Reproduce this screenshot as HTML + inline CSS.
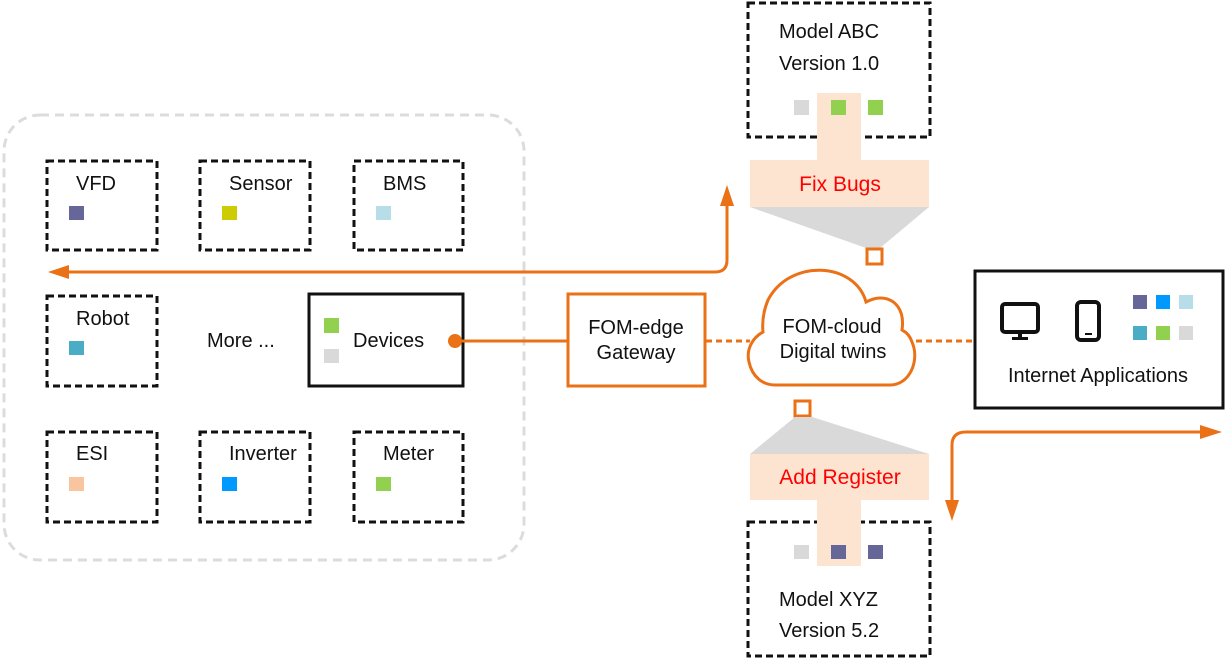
<!DOCTYPE html>
<html><head><meta charset="utf-8"><style>
html,body{margin:0;padding:0;background:#fff;}
svg{display:block;}
text{font-family:"Liberation Sans",sans-serif;font-size:20px;fill:#111;}
</style></head><body>
<svg width="1227" height="661" viewBox="0 0 1227 661" xmlns="http://www.w3.org/2000/svg">
<rect x="4" y="115" width="520" height="445" rx="36" fill="none" stroke="#dcdcdc" stroke-width="3" stroke-dasharray="9,6"/>
<g fill="none" stroke="#111" stroke-width="3" stroke-dasharray="7,4">
<rect x="47" y="161" width="110" height="89"/>
<rect x="200" y="161" width="110" height="89"/>
<rect x="354" y="161" width="109" height="89"/>
<rect x="47" y="296" width="110" height="90"/>
<rect x="47" y="432" width="110" height="90"/>
<rect x="200" y="432" width="110" height="90"/>
<rect x="354" y="432" width="109" height="90"/>
<rect x="748" y="3" width="182" height="134"/>
<rect x="748" y="522" width="182" height="134"/>
</g>
<rect x="309" y="294" width="154" height="92" fill="none" stroke="#111" stroke-width="3"/>
<text x="76" y="190">VFD</text>
<text x="229" y="190">Sensor</text>
<text x="383" y="190">BMS</text>
<text x="76" y="325">Robot</text>
<text x="76" y="460">ESI</text>
<text x="229" y="460">Inverter</text>
<text x="383" y="460">Meter</text>
<text x="207" y="347">More ...</text>
<text x="353" y="347">Devices</text>
<rect x="69" y="206" width="15" height="14" fill="#666699"/>
<rect x="222" y="206" width="15" height="14" fill="#cccc00"/>
<rect x="376" y="206" width="15" height="14" fill="#b7dde8"/>
<rect x="69" y="341" width="15" height="14" fill="#4bacc6"/>
<rect x="69" y="477" width="15" height="14" fill="#f8c59e"/>
<rect x="222" y="477" width="15" height="14" fill="#0099ff"/>
<rect x="376" y="477" width="15" height="14" fill="#92d050"/>
<rect x="324" y="318" width="15" height="15" fill="#92d050"/>
<rect x="324" y="349" width="15" height="14" fill="#d9d9d9"/>
<path d="M62 272 H715 Q727 272 727 260 V200" fill="none" stroke="#eb7117" stroke-width="3"/>
<polygon points="48,272 69,265 69,279" fill="#eb7117"/>
<polygon points="727,185 720,206 734,206" fill="#eb7117"/>
<circle cx="455" cy="341" r="7" fill="#eb7117"/>
<line x1="455" y1="341" x2="567" y2="341" stroke="#eb7117" stroke-width="3"/>
<rect x="568" y="294" width="137" height="92" fill="none" stroke="#eb7117" stroke-width="3"/>
<text x="636" y="334" text-anchor="middle">FOM-edge</text>
<text x="636" y="359" text-anchor="middle">Gateway</text>
<line x1="706" y1="341" x2="750" y2="341" stroke="#eb7117" stroke-width="3" stroke-dasharray="6,4"/>
<line x1="916" y1="341" x2="975" y2="341" stroke="#eb7117" stroke-width="3" stroke-dasharray="6,4"/>
<path d="M775 385 H890 C910 385 920 360 912 342 C910 336 906 332 902 330 C905 310 895 298 880 298 C875 298 870 300 866 302 C855 262 790 258 768 300 C763 312 762 322 763 332 C752 338 746 350 749 362 C752 376 762 385 775 385 Z" fill="#fff" stroke="#eb7117" stroke-width="3"/>
<text x="832" y="333" text-anchor="middle">FOM-cloud</text>
<text x="833" y="358" text-anchor="middle">Digital twins</text>
<rect x="975" y="271" width="248" height="137" fill="none" stroke="#111" stroke-width="3"/>
<rect x="1002" y="304" width="36" height="28" rx="3" fill="none" stroke="#111" stroke-width="4"/>
<rect x="1018" y="332" width="4" height="6" fill="#111"/><rect x="1012" y="337" width="16" height="3" fill="#111"/>
<rect x="1077" y="302" width="22" height="38" rx="4" fill="none" stroke="#111" stroke-width="4"/>
<rect x="1085" y="333" width="7" height="2" fill="#111"/>
<rect x="1133" y="295" width="14" height="14" fill="#666699"/>
<rect x="1156" y="295" width="14" height="14" fill="#0099ff"/>
<rect x="1179" y="295" width="14" height="14" fill="#b7dde8"/>
<rect x="1133" y="326" width="14" height="14" fill="#4bacc6"/>
<rect x="1156" y="326" width="14" height="14" fill="#92d050"/>
<rect x="1179" y="326" width="14" height="14" fill="#d9d9d9"/>
<text x="1098" y="382" text-anchor="middle">Internet Applications</text>
<text x="779" y="38">Model ABC</text>
<text x="779" y="70">Version 1.0</text>
<path d="M817 93 H861 V160 H929 V207 H750 V160 H817 Z" fill="#fde4d0"/>
<rect x="794" y="100" width="15" height="15" fill="#d9d9d9"/>
<rect x="831" y="100" width="15" height="15" fill="#92d050"/>
<rect x="868" y="100" width="15" height="15" fill="#92d050"/>
<text x="840" y="191" text-anchor="middle" style="fill:#ff0000;font-size:21px">Fix Bugs</text>
<polygon points="750,207 929,207 880,248 866,248" fill="#d9d9d9"/>
<rect x="867" y="249" width="15" height="15" fill="#fff" stroke="#eb7117" stroke-width="3"/>
<rect x="795" y="401" width="15" height="15" fill="#fff" stroke="#eb7117" stroke-width="3"/>
<polygon points="795,417 812,417 929,454 750,454" fill="#d9d9d9"/>
<path d="M750 454 H929 V500 H861 V566 H817 V500 H750 Z" fill="#fde4d0"/>
<text x="840" y="484" text-anchor="middle" style="fill:#ff0000;font-size:21px">Add Register</text>
<rect x="794" y="545" width="15" height="14" fill="#d9d9d9"/>
<rect x="831" y="545" width="15" height="14" fill="#666699"/>
<rect x="868" y="545" width="15" height="14" fill="#666699"/>
<text x="779" y="606">Model XYZ</text>
<text x="779" y="637">Version 5.2</text>
<path d="M952 505 V445 Q952 432 966 432 H1205" fill="none" stroke="#eb7117" stroke-width="3"/>
<polygon points="1222,432 1200,425 1200,439" fill="#eb7117"/>
<polygon points="952,521 945,500 959,500" fill="#eb7117"/>
</svg>
</body></html>
